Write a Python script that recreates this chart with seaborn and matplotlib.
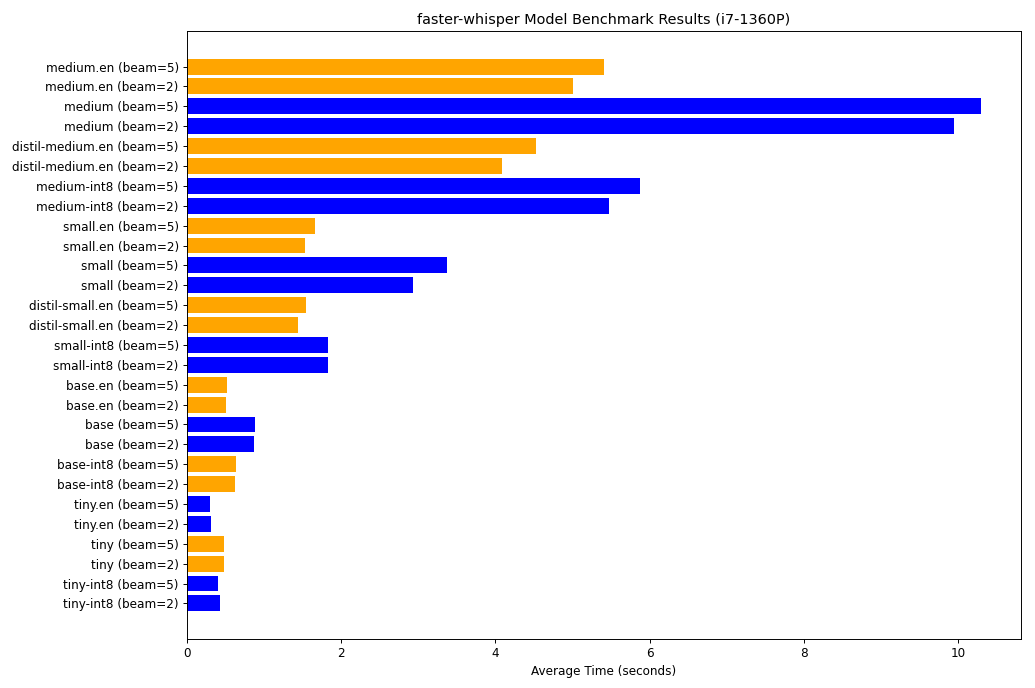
import matplotlib
matplotlib.use("Agg")
import matplotlib.pyplot as plt
import seaborn as sns
import pandas as pd

models = ["medium.en", "medium", "distil-medium.en", "medium-int8",
          "small.en", "small", "distil-small.en", "small-int8",
          "base.en", "base", "base-int8", "tiny.en", "tiny", "tiny-int8"]
beams = [5, 2]
labels = [f"{m} (beam={b})" for m in models for b in beams]
times = [5.41, 5.01, 10.30, 9.95, 4.52, 4.09, 5.88, 5.47,
         1.66, 1.53, 3.37, 2.93, 1.54, 1.44, 1.83, 1.83,
         0.52, 0.51, 0.88, 0.87, 0.63, 0.62, 0.30, 0.31,
         0.48, 0.48, 0.40, 0.43]
model_colors = ["orange", "blue", "orange", "blue", "orange", "blue", "orange",
                "blue", "orange", "blue", "orange", "blue", "orange", "blue"]
colors = [c for c in model_colors for _ in beams]

df = pd.DataFrame({"label": labels, "time": times})

dpi = 86.25
fig = plt.figure(figsize=(1035 / dpi, 688 / dpi), dpi=dpi)
ax = fig.add_axes([0.1807, 0.0712, 0.8058, 0.8838])
sns.barplot(data=df, y="label", x="time", hue="label", palette=colors,
            orient="h", saturation=1, width=0.8, linewidth=0, legend=False, ax=ax)
n = len(labels)
ax.set_ylim(n - 1 + 1.79, -1.79)
ax.set_xlim(0, max(times) * 1.05)
ax.set_ylabel("")
ax.set_xlabel("Average Time (seconds)")
ax.set_title("faster-whisper Model Benchmark Results (i7-1360P)")
fig.savefig("out.png", dpi=dpi)
